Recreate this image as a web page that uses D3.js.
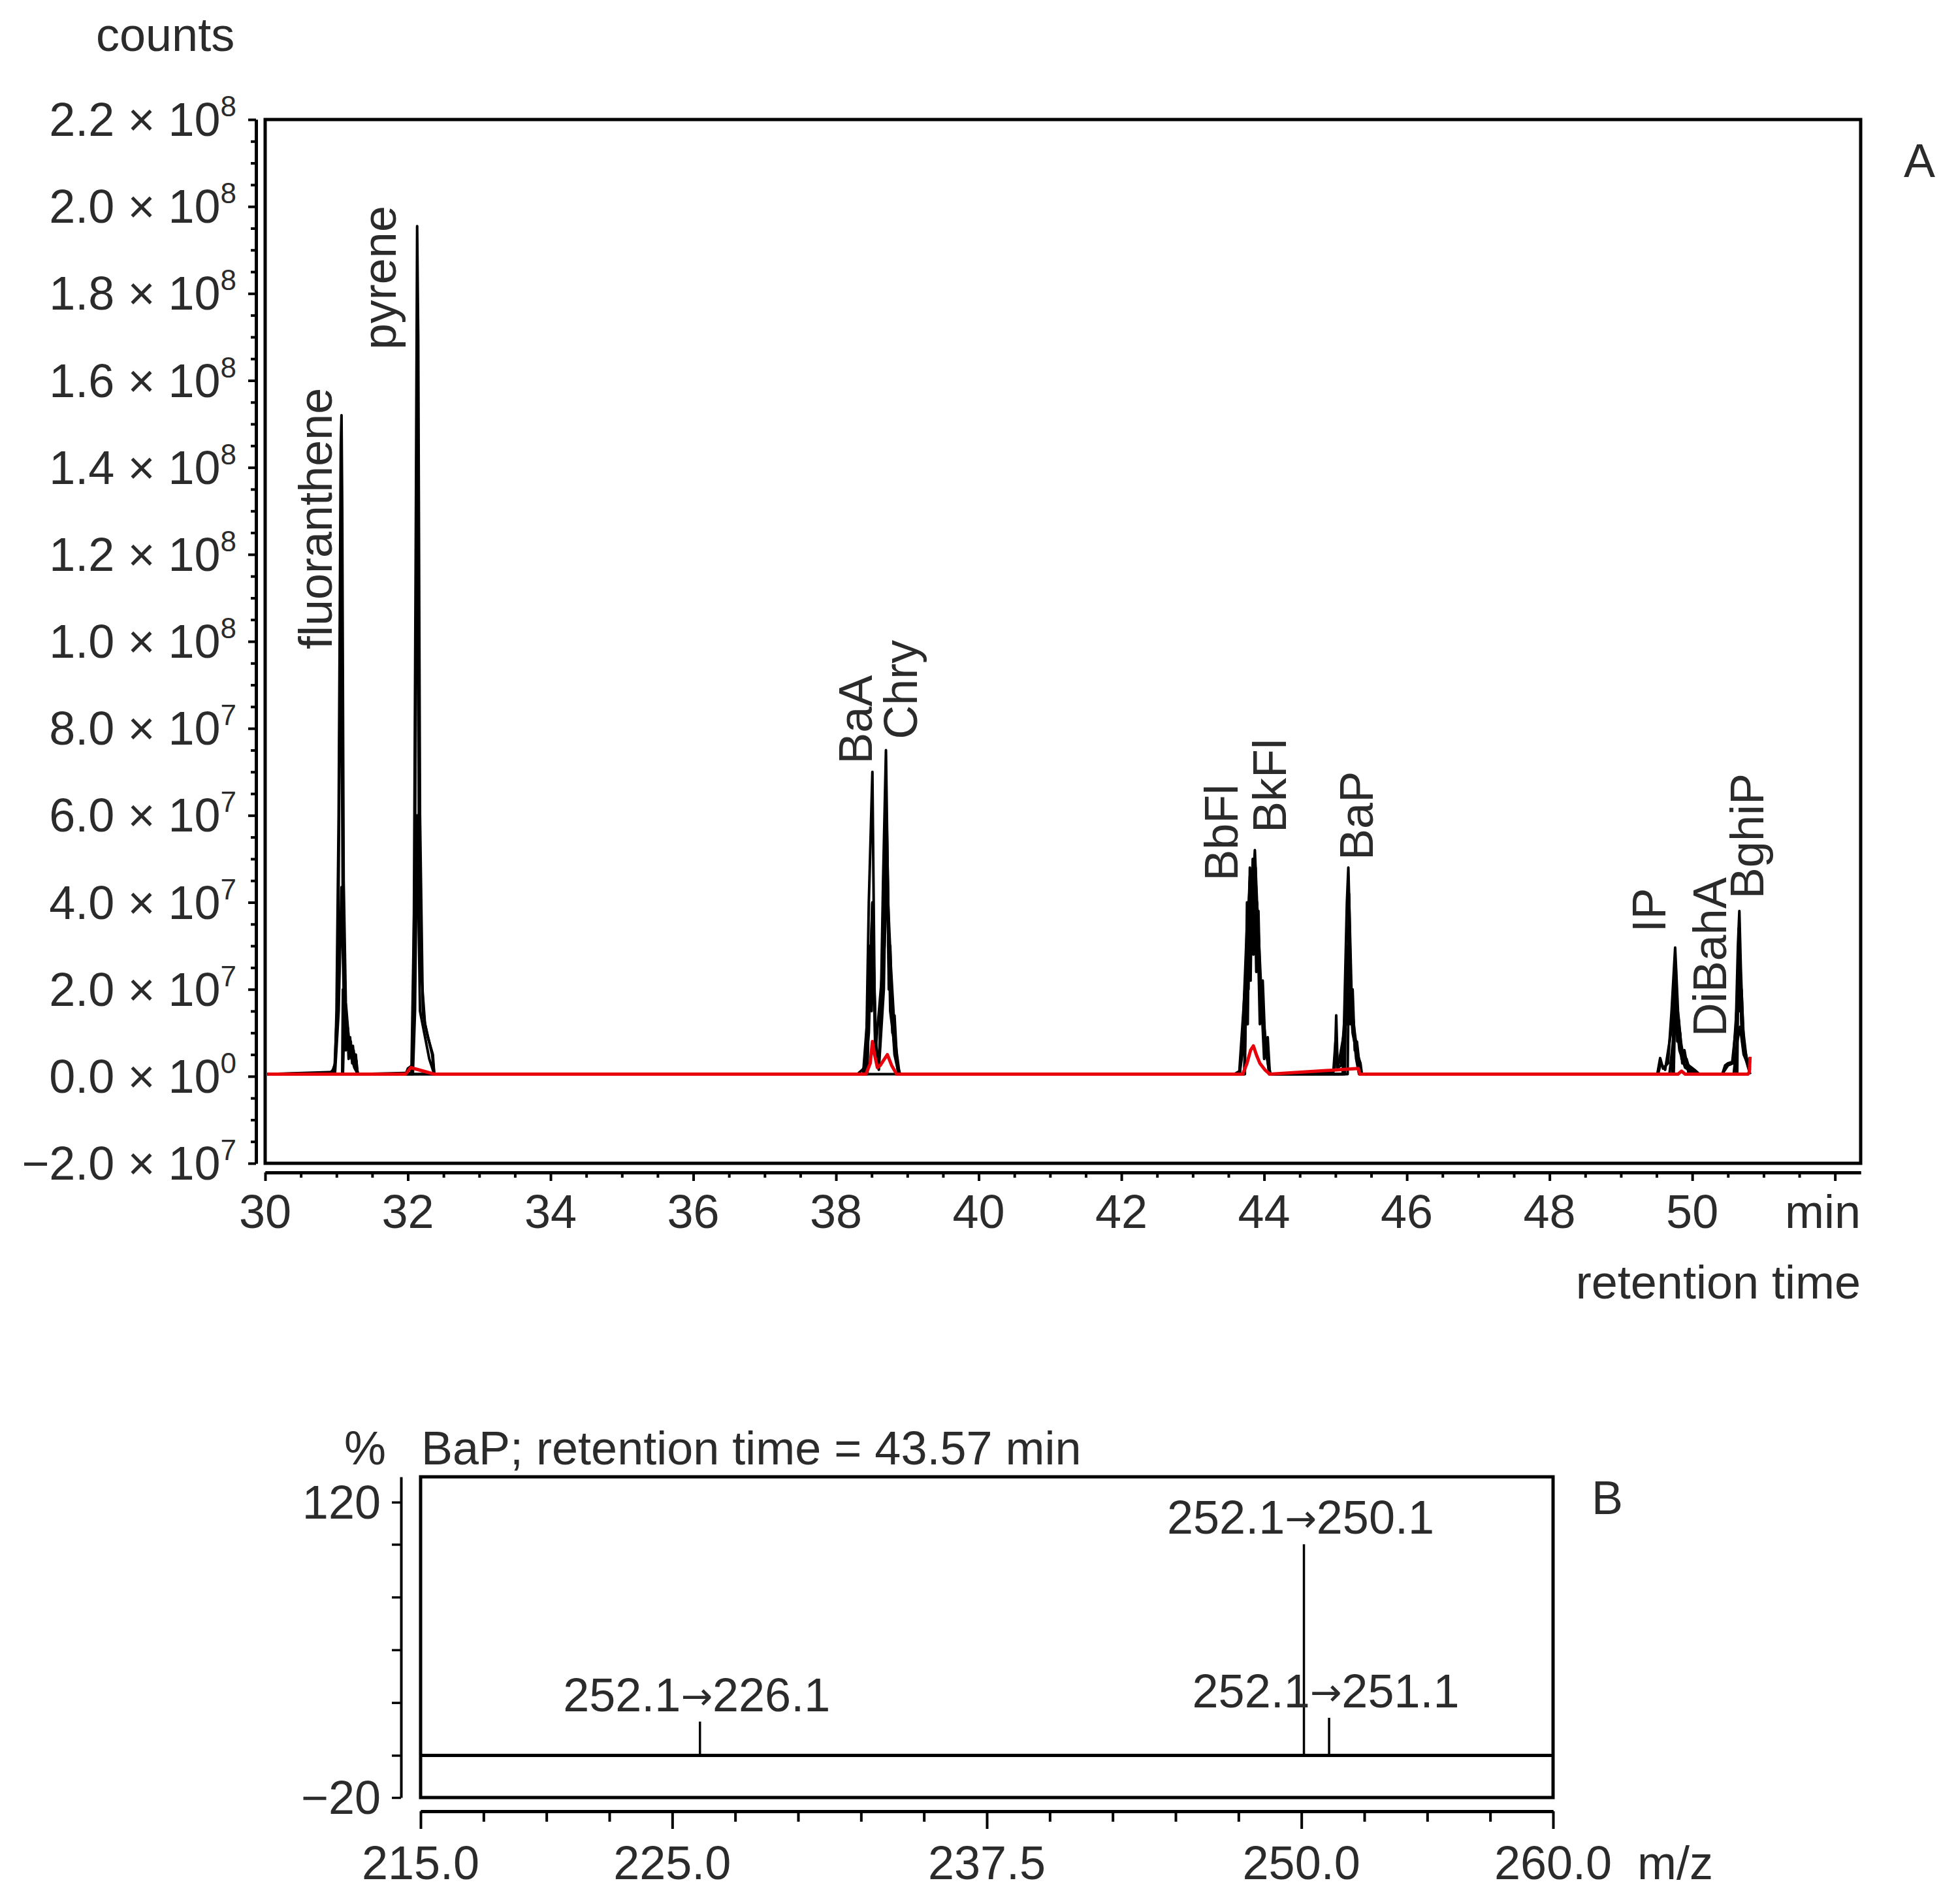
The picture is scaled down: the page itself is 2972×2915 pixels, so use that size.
<!DOCTYPE html>
<html>
<head>
<meta charset="utf-8">
<title>PAH chromatogram</title>
<style>
body{margin:0;background:#fff}
text{font-family:"Liberation Sans",Arial,sans-serif;fill:#2b2b2b}
</style>
</head>
<body>
<script src="https://d3js.org/d3.v7.min.js"></script>
<script>
var W = 2972, H = 2915

// ---- panel A : chromatogram ----
var xTicksA = [30, 32, 34, 36, 38, 40, 42, 44, 46, 48, 50, 52]
var xLabelsA = ['30', '32', '34', '36', '38', '40', '42', '44', '46', '48', '50', '']
var yTicksA = [-2e7, 0, 2e7, 4e7, 6e7, 8e7, 1e8, 1.2e8, 1.4e8, 1.6e8, 1.8e8, 2e8, 2.2e8]

// quantifier trace [retention time (min), counts]
var traceQuant = [
  [30.03, 5e5], [30.90, 5e5], [30.95, 1.5e6], [30.98, 3e6], [31.00, 1.5e7], [31.03, 6e7], [31.06, 1.45e8],
  [31.07, 1.52e8], [31.08, 1.3e8], [31.10, 4.5e7], [31.13, 1.7e7], [31.17, 9e6], [31.22, 6e6], [31.27, 4e6],
  [31.29, 1e6], [31.30, 5e5],
  [31.97, 5e5], [32.00, 1.8e6], [32.06, 2.5e6], [32.08, 2e7], [32.11, 1.2e8], [32.13, 1.955e8], [32.145, 1.7e8],
  [32.17, 6e7], [32.21, 1.45e7], [32.28, 9e6], [32.35, 5e6], [32.37, 5e5],
  [38.30, 5e5], [38.37, 1.5e6], [38.42, 2.5e6], [38.46, 4e7], [38.51, 7.0e7], [38.54, 2e7], [38.56, 8e6],
  [38.59, 2.2e6], [38.62, 8e6], [38.66, 4.5e7], [38.70, 7.5e7], [38.73, 4e7], [38.77, 2.5e7], [38.83, 8e6],
  [38.87, 3e6], [38.89, 5e5],
  [43.58, 5e5], [43.66, 1.2e6], [43.72, 8e6], [43.76, 3e7], [43.80, 4.6e7], [43.84, 4.2e7], [43.87, 5.2e7],
  [43.90, 4e7], [43.93, 3e7], [43.97, 1.6e7], [44.03, 7e6], [44.07, 2e6], [44.09, 5e5],
  [44.96, 9e5], [44.99, 2e6], [45.01, 1.4e7], [45.03, 2e6], [45.08, 2.5e6], [45.12, 1.2e7], [45.16, 4e7],
  [45.18, 4.8e7], [45.20, 3.5e7], [45.23, 1.6e7], [45.27, 1e7], [45.31, 5e6], [45.35, 3e6], [45.37, 5e5],
  [49.51, 5e5], [49.55, 4.2e6], [49.59, 1.8e6], [49.66, 3e6], [49.71, 1.5e7], [49.76, 2.96e7], [49.80, 1.5e7],
  [49.84, 8e6], [49.88, 4e6], [49.95, 2.5e6], [50.03, 1.5e6], [50.10, 5e5],
  [50.42, 5e5], [50.46, 2.5e6], [50.50, 3e6], [50.56, 3.3e6], [50.61, 1.1e7], [50.64, 3e7], [50.66, 3.8e7],
  [50.68, 2.5e7], [50.71, 1.1e7], [50.76, 4e6], [50.81, 2e6]
]

// qualifier traces
var traceQual1 = [
  [30.03, 5e5], [30.97, 8e5], [31.02, 2e7], [31.06, 1.23e8], [31.09, 3.3e7], [31.13, 1.1e7], [31.20, 7e6],
  [31.27, 3e6], [31.30, 5e5],
  [32.05, 8e5], [32.10, 5e7], [32.13, 1.68e8], [32.16, 3e7], [32.24, 1.2e7], [32.34, 5e6], [32.37, 5e5],
  [38.38, 5e5], [38.47, 2e7], [38.51, 4e7], [38.55, 8e6], [38.60, 2e6], [38.66, 3e7], [38.70, 6e7],
  [38.74, 2.5e7], [38.82, 5e6], [38.88, 5e5],
  [43.65, 5e5], [43.75, 2.5e7], [43.80, 4.5e7], [43.84, 3.8e7], [43.88, 4.6e7], [43.93, 2.6e7], [44.00, 1e7],
  [44.06, 2e6], [44.08, 5e5],
  [44.97, 1e6], [45.00, 8e6], [45.03, 1.5e6], [45.12, 1e7], [45.17, 3e7], [45.21, 1.8e7], [45.27, 8e6],
  [45.33, 3e6], [45.36, 5e5],
  [49.52, 5e5], [49.56, 3e6], [49.62, 1.5e6], [49.72, 1.2e7], [49.76, 2.2e7], [49.80, 1e7], [49.87, 3e6],
  [49.95, 2e6], [50.08, 5e5],
  [50.42, 5e5], [50.50, 2.5e6], [50.57, 3e6], [50.62, 1.5e7], [50.66, 2.5e7], [50.70, 8e6], [50.78, 3e6],
  [50.81, 1.5e6]
]
var traceQual2 = [
  [30.03, 5e5], [30.98, 1e6], [31.03, 1.5e7], [31.07, 4.35e7], [31.10, 2e7], [31.15, 8e6], [31.25, 2e6],
  [31.30, 5e5],
  [32.07, 5e5], [32.10, 1.5e7], [32.13, 6e7], [32.17, 1.5e7], [32.30, 4e6], [32.37, 5e5],
  [38.40, 5e5], [38.46, 1e7], [38.51, 3.98e7], [38.56, 5e6], [38.60, 1.5e6], [38.67, 2e7], [38.71, 5.97e7],
  [38.76, 1.5e7], [38.85, 3e6], [38.90, 5e5],
  [43.66, 5e5], [43.70, 1e7], [43.76, 3.5e7], [43.80, 3e7], [43.83, 4.2e7], [43.86, 3.5e7], [43.90, 4e7],
  [43.95, 2e7], [44.02, 6e6], [44.08, 5e5],
  [45.10, 5e5], [45.14, 1.5e7], [45.19, 2.2e7], [45.24, 1e7], [45.30, 5e6], [45.36, 5e5],
  [49.68, 5e5], [49.73, 8e6], [49.77, 1.4e7], [49.82, 6e6], [49.90, 2e6], [50.05, 5e5],
  [50.58, 5e5], [50.63, 8e6], [50.67, 1.14e7], [50.72, 5e6], [50.80, 2e6]
]
// noisy overlapping channels that fill the peak bodies
var traceQual3 = [
  [30.03, 5e5], [31.08, 5e5], [31.09, 2e7], [31.10, 1.2e7], [31.12, 1.6e7], [31.14, 8e6], [31.16, 1.1e7],
  [31.18, 5e6], [31.20, 8e6], [31.22, 3e6], [31.24, 6e6], [31.26, 2e6], [31.28, 3.5e6], [31.29, 5e5],
  [38.44, 5e5], [38.48, 3e7], [38.50, 1.5e7], [38.52, 3.5e7], [38.55, 5e6], [38.68, 3e7], [38.72, 5e7],
  [38.74, 2e7], [38.76, 3e7], [38.79, 1e7], [38.82, 1.4e7], [38.86, 2e6], [38.88, 5e5],
  [43.72, 5e5], [43.74, 1.2e7], [43.76, 4e7], [43.78, 2e7], [43.80, 4.8e7], [43.82, 3e7], [43.84, 5e7],
  [43.86, 3.5e7], [43.88, 4.8e7], [43.90, 3e7], [43.92, 3.8e7], [43.95, 1.5e7], [43.98, 2.2e7], [44.02, 5e6],
  [44.05, 9e6], [44.08, 5e5],
  [45.17, 5e5], [45.19, 3e7], [45.21, 1.2e7], [45.24, 2e7], [45.27, 6e6], [45.30, 8e6], [45.34, 2e6],
  [45.36, 5e5],
  [49.74, 5e5], [49.77, 2.5e7], [49.79, 8e6], [49.83, 1e7], [49.86, 3e6], [49.92, 4e6], [49.98, 5e5],
  [50.63, 5e5], [50.65, 3.4e7], [50.67, 1.5e7], [50.69, 2e7], [50.73, 5e6], [50.81, 5e5]
]
var traceQual4 = [
  [30.03, 5e5], [31.09, 5e5], [31.11, 1.4e7], [31.13, 6e6], [31.15, 1.2e7], [31.17, 4e6], [31.19, 9e6],
  [31.21, 4e6], [31.23, 7e6], [31.25, 2.5e6], [31.27, 5e6], [31.29, 1.5e6], [31.30, 5e5],
  [43.73, 5e5], [43.75, 2.5e7], [43.77, 1.2e7], [43.79, 4e7], [43.81, 2.2e7], [43.83, 4.6e7], [43.85, 2.8e7],
  [43.87, 4.4e7], [43.89, 2.4e7], [43.91, 3.4e7], [43.94, 1.2e7], [43.96, 1.8e7], [44.00, 4e6], [44.04, 7e6],
  [44.07, 5e5],
  [45.13, 5e5], [45.15, 2.5e7], [45.17, 1.2e7], [45.19, 4.2e7], [45.22, 1.5e7], [45.25, 1.1e7], [45.29, 4e6],
  [45.33, 5e5],
  [49.72, 5e5], [49.75, 2e7], [49.78, 1.2e7], [49.81, 1.3e7], [49.85, 4e6], [49.89, 6e6], [49.95, 5e5],
  [50.62, 5e5], [50.64, 2.2e7], [50.66, 2.8e7], [50.69, 1.2e7], [50.74, 6e6], [50.81, 5e5]
]
// red channel
var traceRed = [
  [30.03, 5e5], [31.97, 5e5], [32.04, 2e6], [32.37, 5e5],
  [38.42, 5e5], [38.48, 3e6], [38.51, 8e6], [38.54, 5e6], [38.58, 2e6], [38.62, 2.5e6], [38.68, 4e6],
  [38.72, 5e6], [38.78, 2.5e6], [38.85, 5e5],
  [43.70, 5e5], [43.76, 3e6], [43.81, 6e6], [43.85, 7e6], [43.89, 5e6], [43.94, 3e6], [44.01, 1.5e6], [44.08, 5e5],
  [45.32, 1.8e6], [45.34, 5e5],
  [49.80, 5e5], [49.85, 1.2e6], [49.90, 5e5],
  [50.78, 5e5], [50.80, 1e6], [50.81, 4.5e6]
]

var peakNames = ['fluoranthene', 'pyrene', 'BaA', 'Chry', 'BbFl', 'BkFl', 'BaP', 'IP', 'DiBahA', 'BghiP']
var labelTime = [30.93, 31.83, 38.50, 39.13, 43.63, 44.31, 45.52, 49.62, 50.47, 51.00]
var labelCounts = [9.82e7, 1.671e8, 7.18e7, 7.75e7, 4.49e7, 5.6e7, 4.97e7, 3.31e7, 0.91e7, 4.08e7]

// ---- panel B : product ion spectrum ----
var xTicksB = [215, 225, 237.5, 250, 260]
var xLabelsB = ['215.0', '225.0', '237.5', '250.0', '260.0']
var yTicksB = [-20, 0, 25, 50, 75, 100, 120]
var yLabelsB = ['−20', '', '', '', '', '', '120']
var ionLabels = ['252.1→226.1', '252.1→250.1', '252.1→251.1']
var ionMz = [226.1, 250.1, 251.1]
var ionRel = [16.0, 100, 17.8]


var svg = d3.select('body').append('svg')
  .attr('width', W)
  .attr('height', H)

function sci(v){
  if(v === 0) return ['0.0', '0']
  var e = Math.floor(Math.log10(Math.abs(v)))
  var m = v / Math.pow(10, e)
  return [(m < 0 ? '−' : '') + Math.abs(m).toFixed(1), String(e)]
}

function styleAxis(g, w, tw){
  g.select('.domain').attr('stroke', '#000').attr('stroke-width', w)
  g.selectAll('.tick line').attr('stroke', '#000').attr('stroke-width', tw)
}

// ===== A =====
var x = d3.scaleLinear().domain([30, 52.36]).range([406, 2849])
var y = d3.scaleLinear().domain([-2e7, 2.2e8]).range([1781, 183])

var minorY = d3.range(-2e7, 2.2e8 + 1, 5e6).filter(function(v){ return yTicksA.indexOf(v) < 0 })
var minorX = d3.range(30, 52.01, 0.5).filter(function(v){ return xTicksA.indexOf(v) < 0 })

var gy = svg.append('g').attr('transform', 'translate(392,0)')
  .call(d3.axisLeft(y).tickValues(yTicksA).tickSize(12).tickSizeOuter(0).tickFormat(''))
styleAxis(gy, 5, 4)
var gy2 = svg.append('g').attr('transform', 'translate(392,0)')
  .call(d3.axisLeft(y).tickValues(minorY).tickSize(8).tickSizeOuter(0).tickFormat(''))
styleAxis(gy2, 5, 4)

var gx = svg.append('g').attr('transform', 'translate(0,1795)')
  .call(d3.axisBottom(x).tickValues(xTicksA).tickSize(13).tickSizeOuter(0).tickFormat(''))
styleAxis(gx, 5, 4)
var gx2 = svg.append('g').attr('transform', 'translate(0,1795)')
  .call(d3.axisBottom(x).tickValues(minorX).tickSize(8).tickSizeOuter(0).tickFormat(''))
styleAxis(gx2, 5, 4)

// y tick labels  a.b × 10^n
var yl = svg.append('g').selectAll('text').data(yTicksA).join('text')
  .attr('x', 362)
  .attr('y', function(d){ return y(d) + 25 })
  .attr('text-anchor', 'end')
  .style('font-size', '72px')
yl.append('tspan').text(function(d){ return sci(d)[0] + ' × 10' })
yl.append('tspan').attr('dy', -30).style('font-size', '44px').text(function(d){ return sci(d)[1] })

svg.append('g').selectAll('text').data(xTicksA).join('text')
  .attr('x', function(d){ return x(d) })
  .attr('y', 1880)
  .attr('text-anchor', 'middle')
  .style('font-size', '72px')
  .text(function(d, i){ return xLabelsA[i] })

svg.append('text').attr('x', 2849).attr('y', 1880).attr('text-anchor', 'end').style('font-size', '72px').text('min')
svg.append('text').attr('x', 2849).attr('y', 1988).attr('text-anchor', 'end').style('font-size', '72px').text('retention time')
svg.append('text').attr('x', 147).attr('y', 78).style('font-size', '72px').text('counts')
svg.append('text').attr('x', 2915).attr('y', 271).style('font-size', '72px').text('A')

// frame
svg.append('rect')
  .attr('x', x(30)).attr('y', y(2.2e8))
  .attr('width', x(52.36) - x(30)).attr('height', y(-2e7) - y(2.2e8))
  .attr('fill', 'none').attr('stroke', '#000').attr('stroke-width', 5)

var line = d3.line()
  .x(function(d){ return x(d[0]) })
  .y(function(d){ return y(d[1]) })

;[traceQual4, traceQual2, traceQual3, traceQual1, traceQuant].forEach(function(tr){
  svg.append('path').datum(tr)
    .attr('d', line)
    .attr('fill', 'none')
    .attr('stroke', '#000')
    .attr('stroke-width', 4)
    .attr('stroke-linejoin', 'round')
})
svg.append('path').datum(traceRed)
  .attr('d', line)
  .attr('fill', 'none')
  .attr('stroke', '#e8000b')
  .attr('stroke-width', 5)
  .attr('stroke-linejoin', 'round')

svg.append('g').selectAll('text').data(peakNames).join('text')
  .attr('transform', function(d, i){
    return 'translate(' + x(labelTime[i]) + ',' + y(labelCounts[i]) + ') rotate(-90)'
  })
  .style('font-size', '72px')
  .text(function(d){ return d })

// ===== B =====
var xb = d3.scaleLinear().domain([215, 260]).range([644, 2378])
var yb = d3.scaleLinear().domain([-20, 132]).range([2752, 2261])

var gyb = svg.append('g').attr('transform', 'translate(614,0)')
  .call(d3.axisLeft(yb).tickValues(yTicksB).tickSize(14).tickSizeOuter(0).tickFormat(''))
styleAxis(gyb, 4, 3.5)

var minorB = d3.range(215, 260.01, 2.5).filter(function(v){ return xTicksB.indexOf(v) < 0 })
var gxb = svg.append('g').attr('transform', 'translate(0,2773)')
  .call(d3.axisBottom(xb).tickValues(xTicksB).tickSize(27).tickSizeOuter(0).tickFormat(''))
styleAxis(gxb, 5, 4)
var gxb2 = svg.append('g').attr('transform', 'translate(0,2773)')
  .call(d3.axisBottom(xb).tickValues(minorB).tickSize(16).tickSizeOuter(0).tickFormat(''))
styleAxis(gxb2, 5, 4)

svg.append('g').selectAll('text').data(yTicksB).join('text')
  .attr('x', 583)
  .attr('y', function(d){ return yb(d) + 25 })
  .attr('text-anchor', 'end')
  .style('font-size', '72px')
  .text(function(d, i){ return yLabelsB[i] })

svg.append('g').selectAll('text').data(xTicksB).join('text')
  .attr('x', function(d){ return xb(d) })
  .attr('y', 2877)
  .attr('text-anchor', 'middle')
  .style('font-size', '72px')
  .text(function(d, i){ return xLabelsB[i] })

svg.append('text').attr('x', 2507).attr('y', 2877).style('font-size', '72px').text('m/z')
svg.append('text').attr('x', 527).attr('y', 2242).style('font-size', '72px').text('%')
svg.append('text').attr('x', 645).attr('y', 2242).style('font-size', '72px').text('BaP; retention time = 43.57 min')
svg.append('text').attr('x', 2437).attr('y', 2318).style('font-size', '72px').text('B')

svg.append('rect')
  .attr('x', xb(215)).attr('y', yb(132))
  .attr('width', xb(260) - xb(215)).attr('height', yb(-20) - yb(132))
  .attr('fill', 'none').attr('stroke', '#000').attr('stroke-width', 5)

svg.append('line')
  .attr('x1', xb(215)).attr('x2', xb(260))
  .attr('y1', yb(0)).attr('y2', yb(0))
  .attr('stroke', '#000').attr('stroke-width', 5)

svg.append('g').selectAll('line').data(ionMz).join('line')
  .attr('x1', function(d){ return xb(d) }).attr('x2', function(d){ return xb(d) })
  .attr('y1', yb(0))
  .attr('y2', function(d, i){ return yb(ionRel[i]) })
  .attr('stroke', '#000').attr('stroke-width', 3.5)

var il = svg.append('g').selectAll('text').data(ionLabels).join('text')
  .attr('x', function(d, i){ return xb(ionMz[i]) - 5 })
  .attr('y', function(d, i){ return yb(ionRel[i]) - 16 })
  .attr('text-anchor', 'middle')
  .style('font-size', '72px')
il.append('tspan').text(function(d){ return d.split('→')[0] })
il.append('tspan')
  .style('font-family', '"DejaVu Sans"')
  .style('font-size', '58px')
  .attr('dy', -3)
  .text('→')
il.append('tspan').attr('dy', 3).text(function(d){ return d.split('→')[1] })
</script>
</body>
</html>
